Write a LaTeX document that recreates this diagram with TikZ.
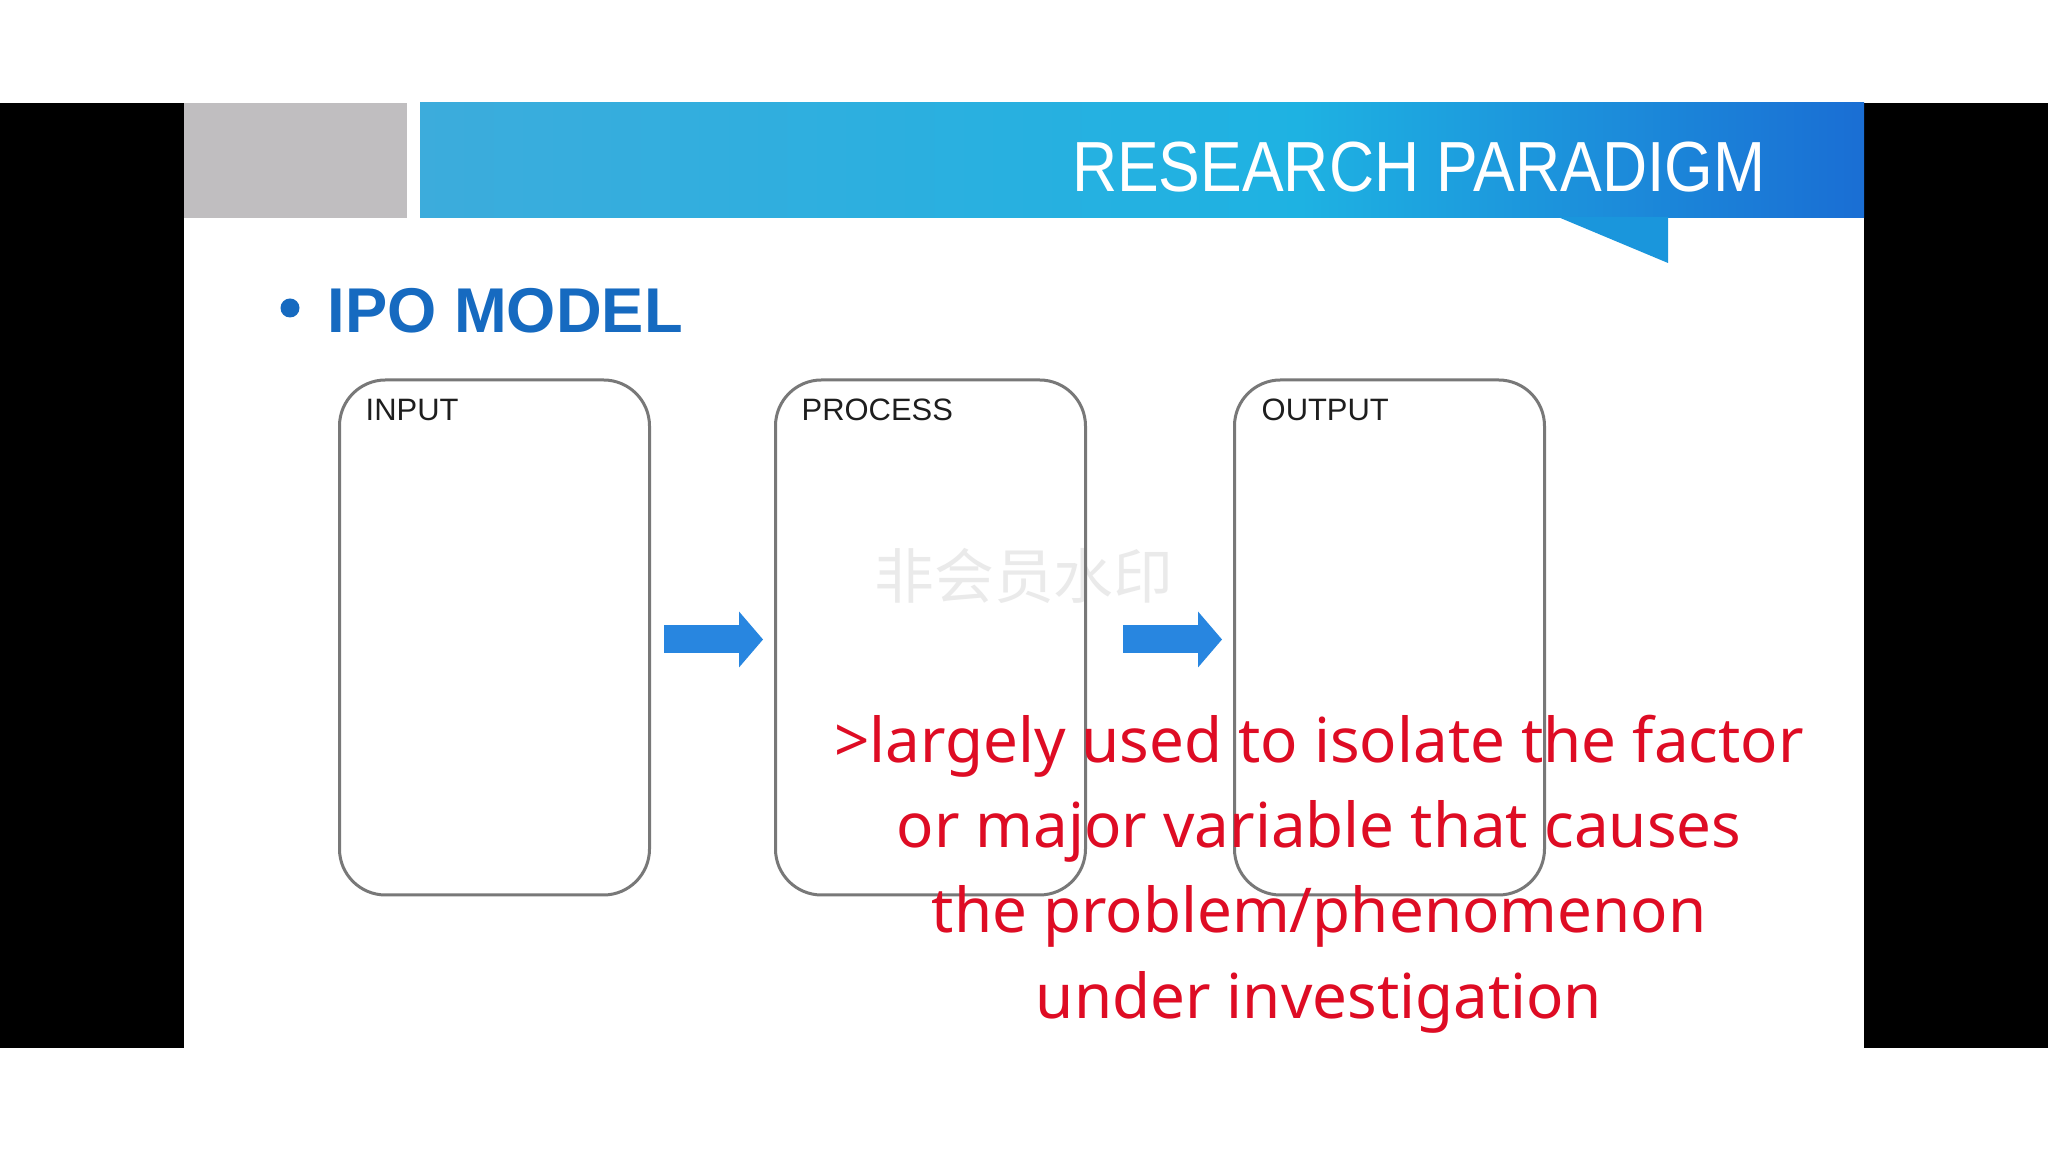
\documentclass[tikz,border=0pt]{standalone}
\usepackage{fontspec}
\setmainfont{Liberation Sans}
\newfontfamily\notosans{Noto Sans}
\newfontfamily\cjk{Noto Sans CJK SC}
\usetikzlibrary{calc,arrows.meta,positioning}
\definecolor{bannerL}{RGB}{60,172,220}
\definecolor{bannerM}{RGB}{30,178,226}
\definecolor{bannerR}{RGB}{26,110,212}
\definecolor{tabblue}{RGB}{26,150,220}
\definecolor{slidegray}{RGB}{192,190,192}
\definecolor{ipoblue}{RGB}{22,106,192}
\definecolor{boxgray}{RGB}{120,120,120}
\definecolor{labelgray}{RGB}{30,30,30}
\definecolor{arrowblue}{RGB}{40,134,224}
\definecolor{wmgray}{RGB}{234,234,234}
\definecolor{notered}{RGB}{222,12,36}

\begin{document}
\begin{tikzpicture}[
  ipobox/.style={draw=boxgray, line width=0.3mm, rounded corners=0.46cm, minimum width=3.1cm, minimum height=5.15cm, inner sep=0pt},
  boxlabel/.style={font=\fontsize{8.8}{10}\selectfont, text=labelgray, inner sep=0pt, anchor=north west},
  flow/.style={draw=arrowblue, line width=0.28cm, -{Triangle[length=0.24cm, width=0.56cm, line width=0pt]}},
  notetext/.style={text=notered, align=center, inner sep=0pt, font=\notosans\fontsize{17.6}{24.3}\selectfont}
]
\useasboundingbox (0,0) rectangle (20.48,11.52);
\fill[white] (0,0) rectangle (20.48,11.52);
\fill[black] (0,1.04) rectangle (20.48,10.49);
\fill[white] (1.84,1.04) rectangle (18.64,10.49);
\fill[slidegray] (1.84,9.34) rectangle (4.07,10.49);
\shade[left color=bannerL, right color=bannerM] (4.20,9.34) rectangle (13.01,10.49);
\shade[left color=bannerM, right color=bannerR] (13.00,9.34) rectangle (18.64,10.49);
\fill[tabblue] (15.58,9.35) -- (16.68,9.35) -- (16.68,8.89) -- cycle;
\node[anchor=base east, text=white, inner sep=0pt, font=\fontsize{20.2}{24}\selectfont] (title) at (17.66,9.60) {\scalebox{0.88}[1]{RESEARCH PARADIGM}};

\node[circle, fill=ipoblue, minimum size=0.19cm, inner sep=0pt] (bullet) at (2.90,8.44) {};
\node[anchor=base west, text=ipoblue, inner sep=0pt, font=\bfseries\fontsize{18}{22}\selectfont] (ipo) at (3.27,8.19) {IPO MODEL};

\node[text=wmgray, inner sep=0pt, font=\cjk\fontsize{17}{20}\selectfont] (wm) at (10.24,5.76) {非会员水印};

\node[ipobox] (input) at (4.945,5.145) {};
\node[ipobox] (process) at (9.305,5.145) {};
\node[ipobox] (output) at (13.895,5.145) {};
\node[boxlabel, below right=0.2cm and 0.27cm of input.north west] (inlabel) {INPUT};
\node[boxlabel, below right=0.2cm and 0.27cm of process.north west] (proclabel) {PROCESS};
\node[boxlabel, below right=0.2cm and 0.28cm of output.north west] (outlabel) {OUTPUT};

\draw[flow] ($(input.east)+(0.13,-0.02)$) -- ($(process.west)+(-0.11,-0.02)$);
\draw[flow] ($(process.east)+(0.36,-0.02)$) -- ($(output.west)+(-0.11,-0.02)$);

\node[notetext] (note) at (13.19,2.78) {>largely used to isolate the factor\\or major variable that causes\\the problem/phenomenon\\under investigation};
\end{tikzpicture}
\end{document}
